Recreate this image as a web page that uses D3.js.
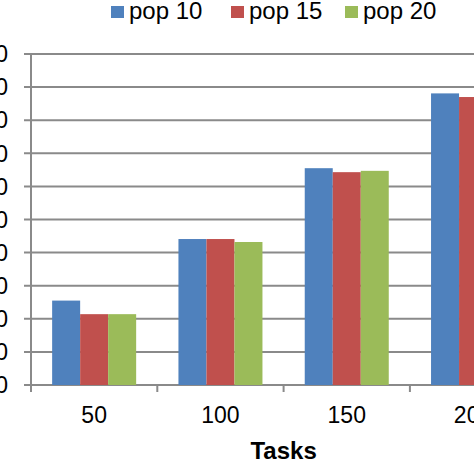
<!DOCTYPE html>
<html>
<head>
<meta charset="utf-8">
<script src="https://cdn.jsdelivr.net/npm/d3@7"></script>
<style>
  html, body { margin: 0; padding: 0; background: #fff; overflow: hidden; }
  svg { display: block; font-family: Arial, "Liberation Sans", sans-serif; }
</style>
</head>
<body>
<div id="chart"></div>
<script>
// Categories (tasks) and series
const tasks = ['50', '100', '150', '200'];
const series = ['pop 10', 'pop 15', 'pop 20'];
const colors = ['#4F81BD', '#C0504D', '#9BBB59'];

// Values (axis labels are cut off, so scale 0-100 is assumed)
const pop10 = [25.5, 44.1, 65.5, 88.1];
const pop15 = [21.4, 44.1, 64.3, 87.0];
const pop20 = [21.4, 43.2, 64.7, 87.5];
const yTicks = [0, 10, 20, 30, 40, 50, 60, 70, 80, 90, 100];

const values = [pop10, pop15, pop20];
const data = tasks.map((t, i) => ({
    task: t,
    vals: series.map((s, j) => ({ key: s, value: values[j][i], color: colors[j] }))
}));

const width = 474;
const height = 474;

const svg = d3.select('#chart').append('svg')
    .attr('width', width)
    .attr('height', height);

// Scales
const x0 = d3.scaleBand()
    .domain(tasks)
    .range([31, 31 + 4 * 126.3])
    .padding(0);

const x1 = d3.scaleBand()
    .domain(series)
    .range([0, x0.bandwidth()])
    .paddingInner(0)
    .paddingOuter(0.755);

const y = d3.scaleLinear()
    .domain([0, 100])
    .range([385, 54]);

const gridColor = '#8a8a8a';

// Gridlines + left tick marks
svg.append('g')
    .selectAll('line')
    .data(yTicks)
    .enter().append('line')
    .attr('x1', 24)
    .attr('x2', width)
    .attr('y1', d => y(d))
    .attr('y2', d => y(d))
    .attr('stroke', gridColor)
    .attr('stroke-width', 2);

// Y tick labels (mostly outside the crop, as in the original)
svg.append('g')
    .selectAll('text')
    .data(yTicks)
    .enter().append('text')
    .attr('x', 8)
    .attr('y', d => y(d))
    .attr('dy', '0.36em')
    .attr('text-anchor', 'end')
    .attr('font-size', 23)
    .attr('fill', '#000')
    .text(d => d);

// Bars
const groups = svg.append('g')
    .selectAll('g')
    .data(data)
    .enter().append('g')
    .attr('transform', d => `translate(${x0(d.task)},0)`);

groups.selectAll('rect')
    .data(d => d.vals)
    .enter().append('rect')
    .attr('x', d => x1(d.key))
    .attr('width', x1.bandwidth())
    .attr('y', d => y(d.value))
    .attr('height', d => y(0) - y(d.value))
    .attr('fill', d => d.color);

// Y axis line
svg.append('line')
    .attr('x1', 31).attr('x2', 31)
    .attr('y1', y(100)).attr('y2', 392)
    .attr('stroke', gridColor)
    .attr('stroke-width', 2);

// X axis
const xAxis = svg.append('g')
    .attr('transform', `translate(0,${y(0)})`)
    .call(d3.axisBottom(x0).tickSize(0).tickPadding(0).tickFormat(''));
xAxis.select('.domain').remove();

// X tick marks at band boundaries
svg.append('g')
    .selectAll('line')
    .data(tasks.slice(1))
    .enter().append('line')
    .attr('x1', d => x0(d))
    .attr('x2', d => x0(d))
    .attr('y1', y(0))
    .attr('y2', 392)
    .attr('stroke', gridColor)
    .attr('stroke-width', 2);

// X tick labels
svg.append('g')
    .selectAll('text')
    .data(tasks)
    .enter().append('text')
    .attr('x', d => x0(d) + x0.bandwidth() / 2)
    .attr('y', 423)
    .attr('text-anchor', 'middle')
    .attr('font-size', 23)
    .attr('fill', '#000')
    .text(d => d);

// X axis title
svg.append('text')
    .attr('x', 31 + 2 * 126.3)
    .attr('y', 459)
    .attr('text-anchor', 'middle')
    .attr('font-size', 24)
    .attr('font-weight', 'bold')
    .attr('fill', '#000')
    .text('Tasks');

// Legend
const legendX = [111, 231, 345];
const legend = svg.append('g')
    .selectAll('g')
    .data(series)
    .enter().append('g')
    .attr('transform', (d, i) => `translate(${legendX[i]},0)`);

legend.append('rect')
    .attr('x', 0)
    .attr('y', 6)
    .attr('width', 13)
    .attr('height', 12)
    .attr('fill', (d, i) => colors[i]);

legend.append('text')
    .attr('x', 18)
    .attr('y', 19)
    .attr('font-size', 24)
    .attr('fill', '#000')
    .text(d => d);
</script>
</body>
</html>
